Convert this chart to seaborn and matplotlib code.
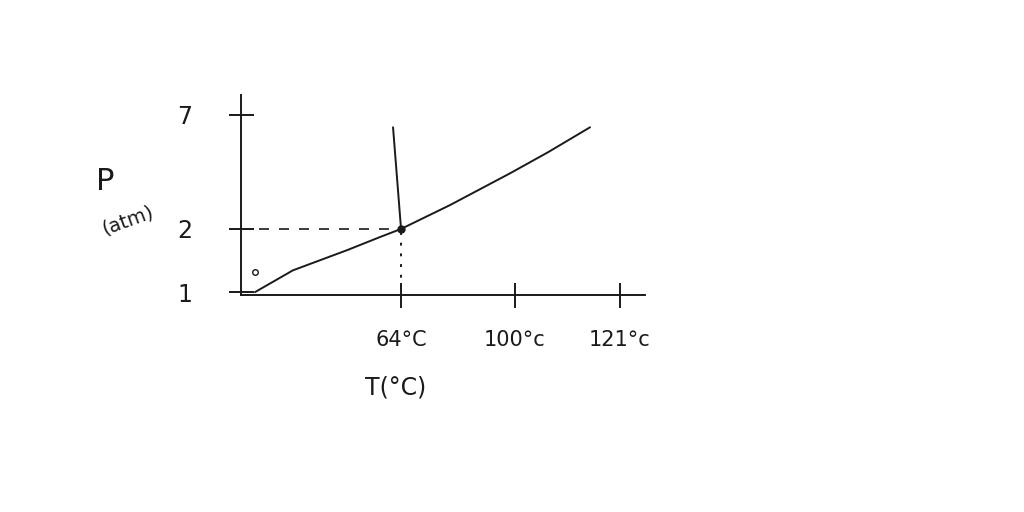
import numpy as np
import seaborn as sns
import matplotlib.pyplot as plt
from matplotlib.ticker import NullLocator

# sketch values: temperature (°C) and pressure (atm)
curve_T = [14.7, 27.5, 45.8, 56.9, 64, 79.5, 98.4, 106.6, 115]
curve_P = [1.0, 1.27, 1.585, 1.83, 2.0, 2.6, 3.68, 4.64, 6.1]
melt_T = [64, 61.3]
melt_P = [2.0, 6.1]
point_T = 64
point_P = 2
triple_T = 14.7
triple_P = 1.245

x_ticks = [64, 100, 121]
x_tick_labels = ["64°C", "100°c", "121°c"]
y_ticks = [1, 2, 7]
y_tick_labels = ["1", "2", "7"]

# hand sketch has uneven tick spacing along T
T_knots = np.array([10, 64, 100, 121, 126])
u_knots = np.array([241, 401, 515, 620, 645])


def fwd(t):
    t = np.asarray(t, dtype=float)
    u = np.interp(t, T_knots, u_knots)
    lo = t < T_knots[0]
    hi = t > T_knots[-1]
    u = np.where(lo, u_knots[0] + (t - T_knots[0]) * 2.963, u)
    u = np.where(hi, u_knots[-1] + (t - T_knots[-1]) * 5.0, u)
    return u


def inv(u):
    u = np.asarray(u, dtype=float)
    t = np.interp(u, u_knots, T_knots)
    lo = u < u_knots[0]
    hi = u > u_knots[-1]
    t = np.where(lo, T_knots[0] + (u - u_knots[0]) / 2.963, t)
    t = np.where(hi, T_knots[-1] + (u - u_knots[-1]) / 5.0, t)
    return t


sns.set_theme(style="white")
plt.rcParams["font.family"] = ["DejaVu Sans"]

fig = plt.figure(figsize=(10.24, 5.12), dpi=100)
ax = fig.add_axes([0.2354, 0.424, 0.3945, 0.3906])

line_kw = dict(color="#1a1a1a", linewidth=1.4)
sns.lineplot(x=curve_T, y=curve_P, ax=ax, sort=False, **line_kw)
sns.lineplot(x=melt_T, y=melt_P, ax=ax, sort=False, **line_kw)

ax.plot([16, point_T - 1], [point_P, point_P], color="#1a1a1a",
        linewidth=1.2, linestyle=(0, (6, 6)))
ax.plot([point_T, point_T], [1.93, 1.06], color="#1a1a1a",
        linewidth=1.4, linestyle=(0, (1.5, 4)))
ax.plot([point_T], [point_P], "o", color="#1a1a1a", markersize=5)
ax.plot([triple_T], [triple_P], "o", mfc="white", mec="#1a1a1a",
        markersize=4, mew=1)

ax.set_yscale("log")
ax.set_xscale("function", functions=(fwd, inv))
ax.set_xlim(10, 126)
ax.set_ylim(0.97, 8.7)

ax.set_xticks(x_ticks)
ax.set_xticklabels(x_tick_labels)
ax.set_yticks(y_ticks)
ax.set_yticklabels(y_tick_labels)
ax.yaxis.set_minor_locator(NullLocator())
ax.xaxis.set_minor_locator(NullLocator())

ax.tick_params(axis="both", bottom=True, left=True, direction="inout",
               length=18, width=1.4, color="#1a1a1a", labelcolor="#1a1a1a")
ax.tick_params(axis="y", pad=26, labelsize=17)
ax.tick_params(axis="x", pad=16, labelsize=15)

for side in ["top", "right"]:
    ax.spines[side].set_visible(False)
for side in ["left", "bottom"]:
    ax.spines[side].set_color("#1a1a1a")
    ax.spines[side].set_linewidth(1.4)

fig.text(365 / 1024, 1 - 388 / 512, "T(°C)", fontsize=17, color="#1a1a1a",
         ha="left", va="center")
fig.text(105 / 1024, 1 - 182 / 512, "P", fontsize=22, color="#1a1a1a",
         ha="center", va="center")
fig.text(128 / 1024, 1 - 220 / 512, "(atm)", fontsize=14, color="#1a1a1a",
         ha="center", va="center", rotation=20)

fig.savefig("out.png", dpi=100, facecolor="white")
